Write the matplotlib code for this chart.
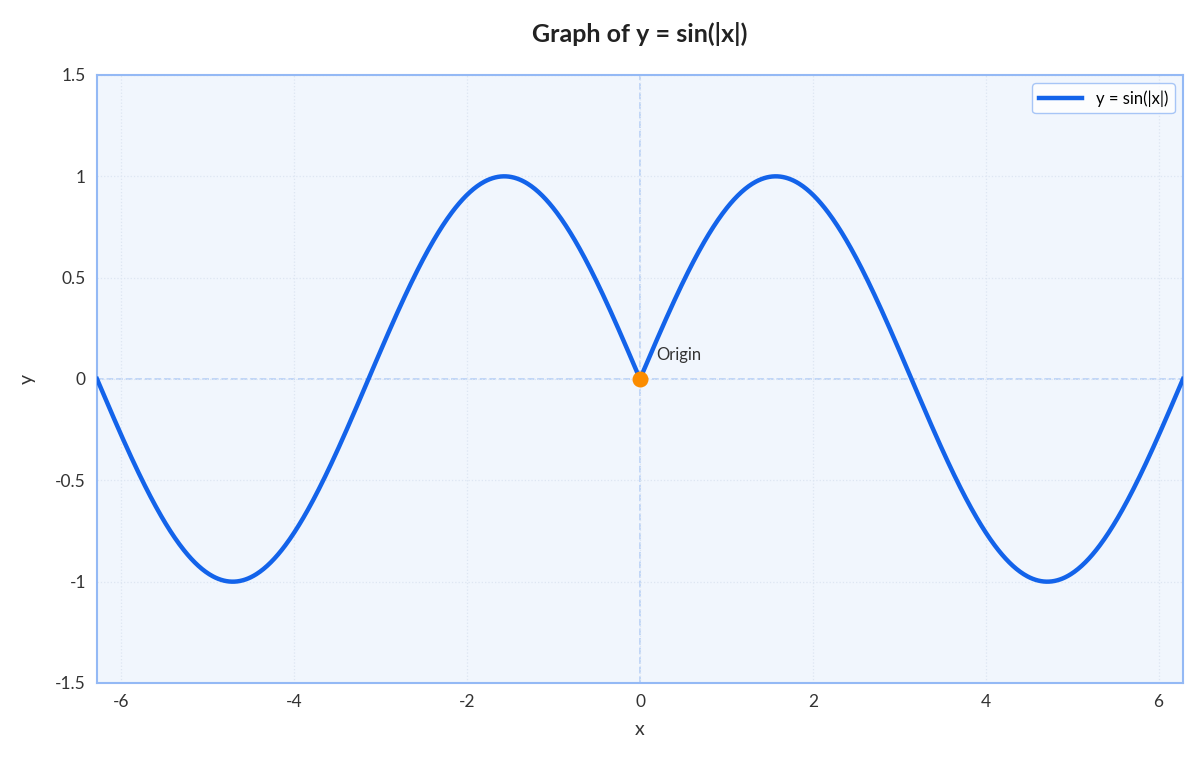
import numpy as np
import matplotlib

matplotlib.use("Agg")
import matplotlib.pyplot as plt
from matplotlib.ticker import FuncFormatter

plt.rcParams["font.family"] = ["Lato", "DejaVu Sans"]

# curve is the function itself: y = sin(|x|) on [-2pi, 2pi]
x_vals = np.linspace(-2 * np.pi, 2 * np.pi, 1201)
y_vals = np.sin(np.abs(x_vals))
origin = (0.0, 0.0)
x_ticks = [-6, -4, -2, 0, 2, 4, 6]
y_ticks = [-1.5, -1, -0.5, 0, 0.5, 1, 1.5]

fig = plt.figure(figsize=(12, 7.6), dpi=100)
ax = fig.add_axes([97 / 1200, 1 - 683 / 760, 1086 / 1200, 608 / 760])
ax.set_facecolor("#f1f6fd")

ax.axhline(0, color="#bcd3f7", lw=1.3, ls="--", zorder=1)
ax.axvline(0, color="#bcd3f7", lw=1.3, ls="--", zorder=1)
ax.plot(x_vals, y_vals, color="#1363ea", lw=3.2, label="y = sin(|x|)", zorder=3)
ax.scatter([origin[0]], [origin[1]], s=110, color="#fb8c00", zorder=4)
ax.annotate("Origin", origin, xytext=(12, 14), textcoords="offset points",
            fontsize=12, color="#333333")

ax.set_xlim(-2 * np.pi, 2 * np.pi)
ax.set_ylim(-1.5, 1.5)
ax.set_xticks(x_ticks)
ax.set_yticks(y_ticks)
fmt = FuncFormatter(lambda v, _: f"{v:g}".replace("\u2212", "-"))
ax.xaxis.set_major_formatter(fmt)
ax.yaxis.set_major_formatter(fmt)
ax.grid(True, color="#dde6f2", lw=0.9, ls=":")
ax.tick_params(labelsize=12.5, colors="#333333", length=0, pad=8)
for s in ax.spines.values():
    s.set_edgecolor("#94b9f5")
    s.set_linewidth(1.5)

ax.set_xlabel("x", fontsize=14, color="#333333", labelpad=8)
ax.set_ylabel("y", fontsize=14, color="#333333", labelpad=14)
ax.set_title("Graph of y = sin(|x|)", fontsize=18, fontweight="bold",
             color="#222222", pad=24)

leg = ax.legend(loc="upper right", fontsize=12, frameon=True, fancybox=True,
                handlelength=2.6)
leg.get_frame().set_edgecolor("#94b9f5")
leg.get_frame().set_facecolor("white")

fig.savefig("out.png", dpi=100, facecolor="white")
